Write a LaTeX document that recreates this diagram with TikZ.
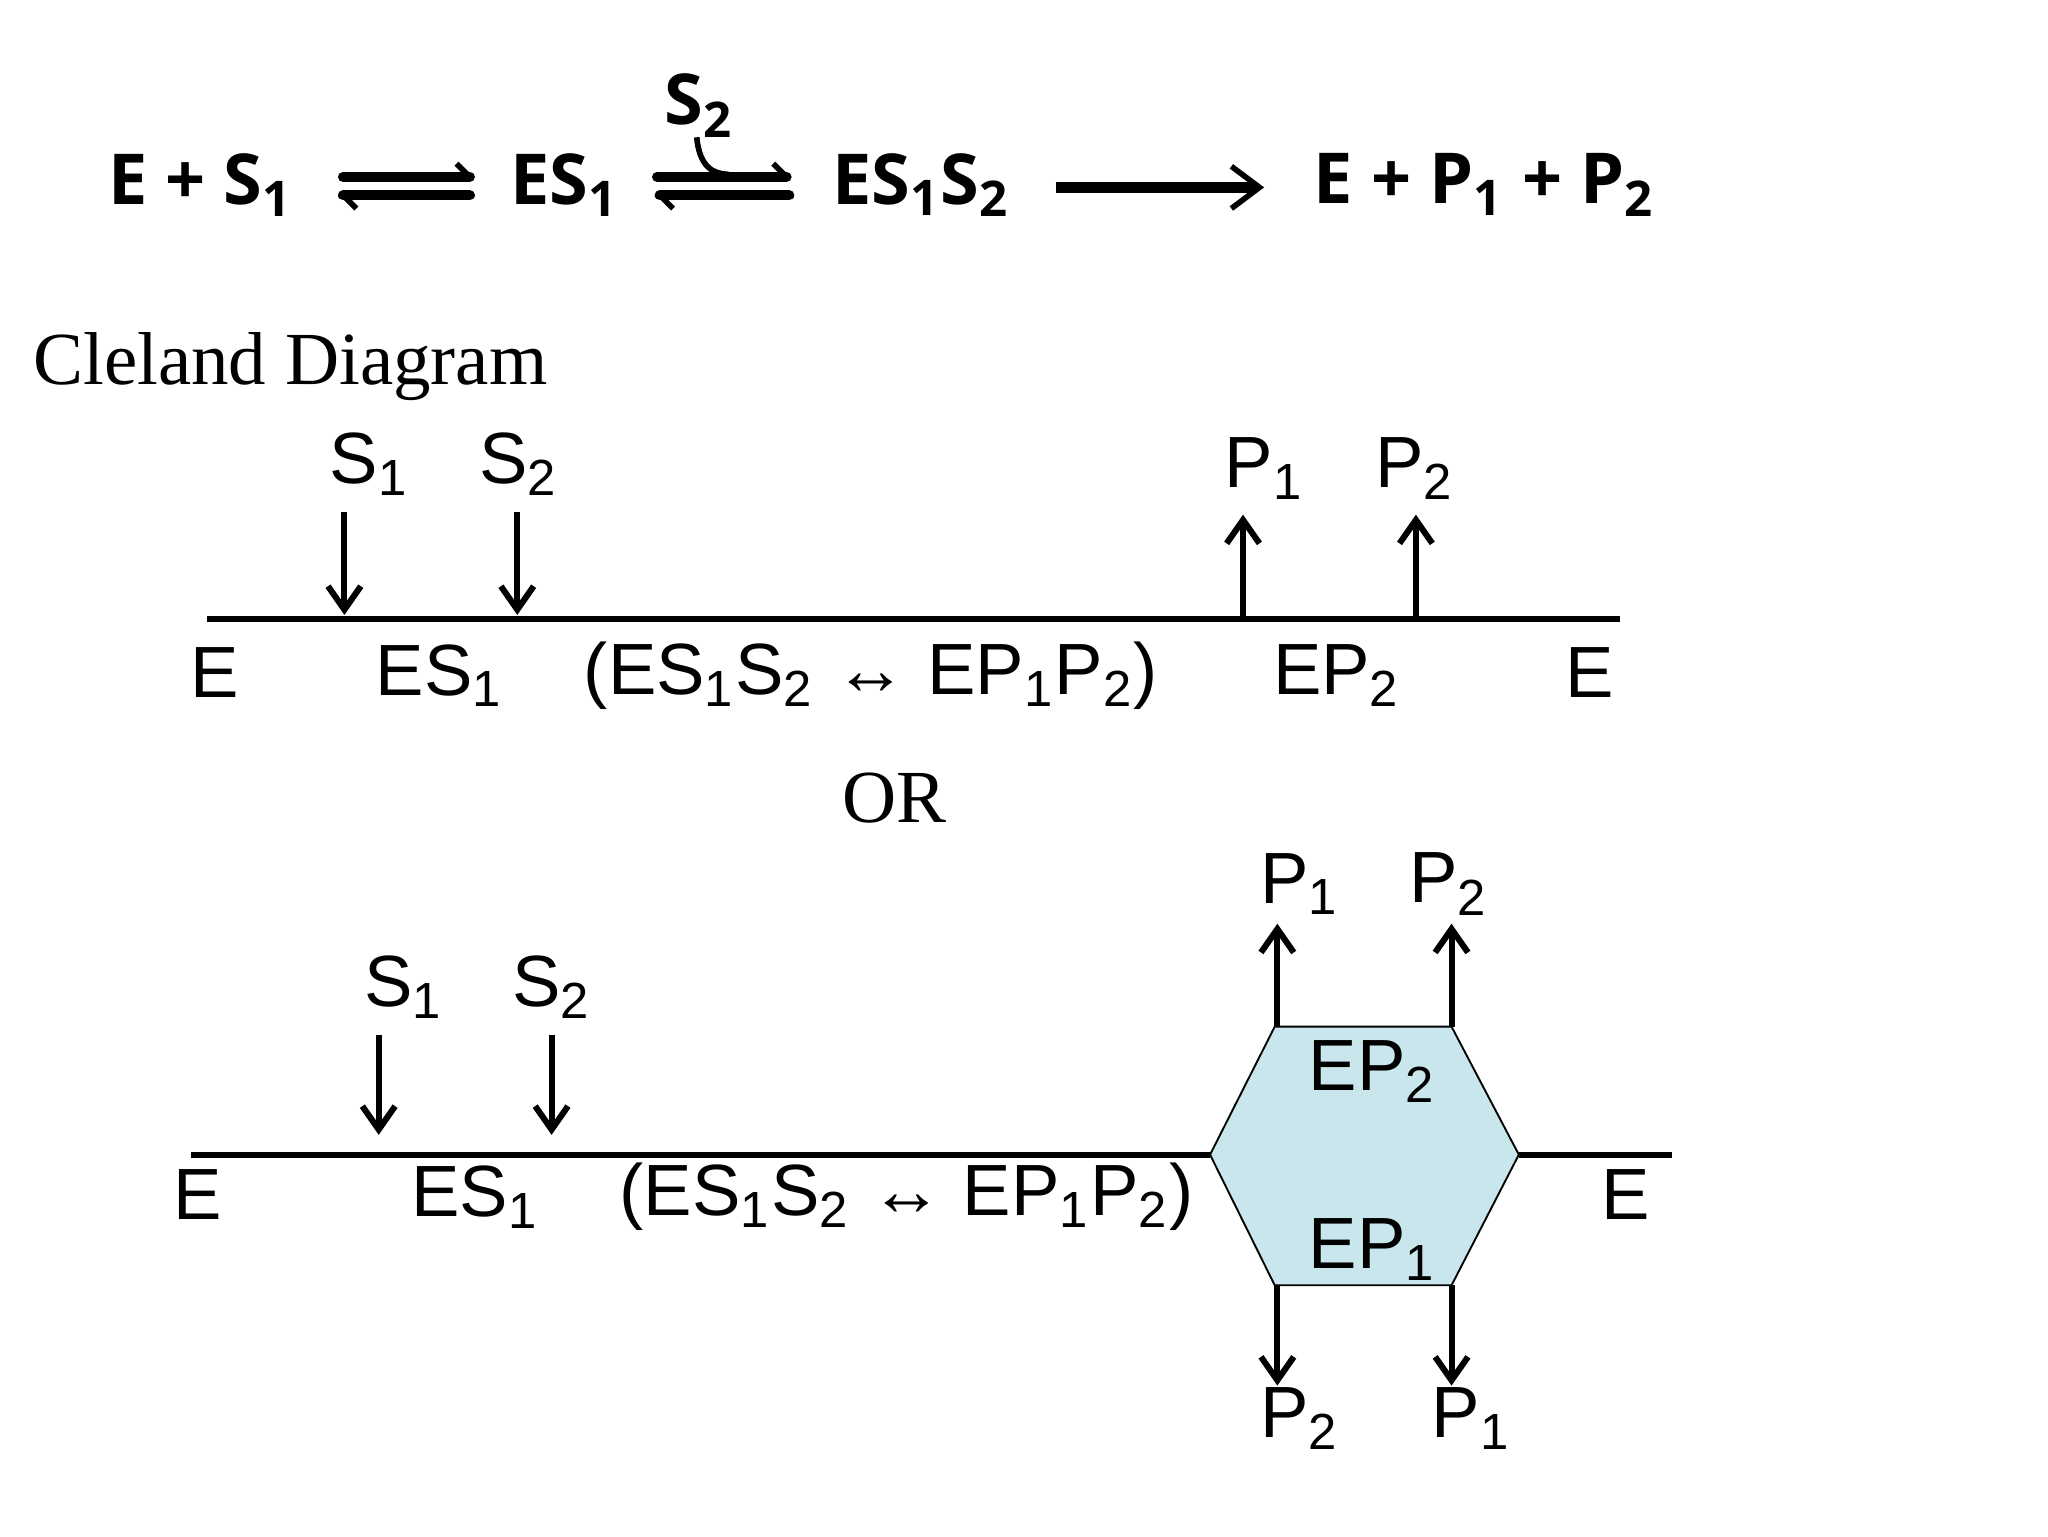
\documentclass[tikz,border=0pt]{standalone}
\usepackage{fontspec}
\setmainfont{Liberation Sans}
\newfontfamily\eqfont{Open Sans}
\newfontfamily\serf{Liberation Serif}
\usetikzlibrary{arrows.meta}
\newcommand\sbs[1]{\textsubscript{#1}}
\begin{document}
\begin{tikzpicture}[x=0.0099cm,y=-0.0099cm,
  eq/.style={font=\eqfont\bfseries\fontsize{15}{18}\selectfont,inner sep=0},
  lab/.style={font=\fontsize{15.5}{18}\selectfont,inner sep=0},
  arr/.style={line width=1.3pt,-{Straight Barb[length=5pt,width=7pt]}},
  base/.style={line width=1.3pt}]
\useasboundingbox (0,0) rectangle (1552,1164);
% equation
\node[eq] (e1) at (152,140) {E + S\sbs{1}};
\node[eq] (e2) at (428,140) {ES\sbs{1}};
\node[eq] (e3) at (698,140) {ES\sbs{1}S\sbs{2}};
\node[eq] (e4) at (1125,140) {E + P\sbs{1} + P\sbs{2}};
\node[eq] (s2) at (530,80) {S\sbs{2}};
\begin{scope}[line width=2.2pt,line cap=round]
\draw (260,134) -- (356,134);
\draw (498,134) -- (596,134);
\draw (260,148) -- (356,148);
\draw (500,148) -- (598,148);
\end{scope}
\begin{scope}[line width=1.2pt]
\draw (356,134) -- (346,124);
\draw (260,148) -- (270,158);
\draw (596,134) -- (586,124);
\draw (500,148) -- (510,158);
\draw (528,104) .. controls (530,126) and (540,132) .. (552,132);
\end{scope}
\draw[line width=2.2pt,-{Straight Barb[length=6pt,width=9pt,line width=1.2pt]}] (800,142) -- (958,142);
\node[font=\serf\fontsize{16}{20}\selectfont,inner sep=0] (title) at (220,278) {Cleland Diagram};
% diagram 1
\coordinate (l1a) at (157,469); \coordinate (l1b) at (1228,469);
\draw[base] (l1a) -- (l1b);
\node[lab] (a1) at (280,352) {S\sbs{1}};
\node[lab] (a2) at (393,352) {S\sbs{2}};
\node[lab] (a3) at (958,355) {P\sbs{1}};
\node[lab] (a4) at (1072,355) {P\sbs{2}};
\coordinate (t1) at (261,388); \coordinate (b1) at (261,466);
\coordinate (t2) at (392,388); \coordinate (b2) at (392,466);
\coordinate (t3) at (942,390); \coordinate (b3) at (942,467);
\coordinate (t4) at (1073,390); \coordinate (b4) at (1073,467);
\draw[arr] (t1) -- (b1); \draw[arr] (t2) -- (b2);
\draw[arr] (b3) -- (t3); \draw[arr] (b4) -- (t4);
\node[lab] (d1) at (163,510) {E};
\node[lab] (d2) at (333,512) {ES\sbs{1}};
\node[lab] (d3) at (660,512) {(ES\sbs{1}S\sbs{2} ↔ EP\sbs{1}P\sbs{2})};
\node[lab] (d4) at (1013,512) {EP\sbs{2}};
\node[lab] (d5) at (1205,510) {E};
\node[font=\serf\fontsize{16}{20}\selectfont,inner sep=0] (or) at (678,605) {OR};
% diagram 2
\draw[fill={rgb,255:red,200;green,230;blue,235}] (917,875) coordinate (h1) -- (966,778) coordinate (h2) -- (1100,778) coordinate (h3) -- (1151,875) coordinate (h4) -- (1100,974) coordinate (h5) -- (966,974) coordinate (h6) -- cycle;
\coordinate (l2a) at (145,875); \coordinate (l2b) at (1267,875);
\draw[base] (l2a) -- (h1); \draw[base] (h4) -- (l2b);
\node[lab] (c1) at (306,748) {S\sbs{1}};
\node[lab] (c2) at (418,748) {S\sbs{2}};
\coordinate (u1) at (287,784); \coordinate (v1) at (287,860);
\coordinate (u2) at (418,784); \coordinate (v2) at (418,860);
\draw[arr] (u1) -- (v1); \draw[arr] (u2) -- (v2);
\coordinate (p1) at (968,700); \coordinate (q1) at (968,778);
\coordinate (p2) at (1100,700); \coordinate (q2) at (1100,778);
\draw[arr] (q1) -- (p1); \draw[arr] (q2) -- (p2);
\coordinate (r1) at (968,974); \coordinate (w1) at (968,1050);
\coordinate (r2) at (1100,974); \coordinate (w2) at (1100,1050);
\draw[arr] (r1) -- (w1); \draw[arr] (r2) -- (w2);
\node[lab] (f1) at (985,670) {P\sbs{1}};
\node[lab] (f2) at (1098,670) {P\sbs{2}};
\node[lab] (g1) at (985,1075) {P\sbs{2}};
\node[lab] (g2) at (1115,1075) {P\sbs{1}};
\node[lab] (h7) at (1040,812) {EP\sbs{2}};
\node[lab] (h8) at (1040,947) {EP\sbs{1}};
\node[lab] (k1) at (150,905) {E};
\node[lab] (k2) at (360,907) {ES\sbs{1}};
\node[lab] (k3) at (687,907) {(ES\sbs{1}S\sbs{2} ↔ EP\sbs{1}P\sbs{2})};
\node[lab] (k4) at (1232,905) {E};
\end{tikzpicture}
\end{document}
